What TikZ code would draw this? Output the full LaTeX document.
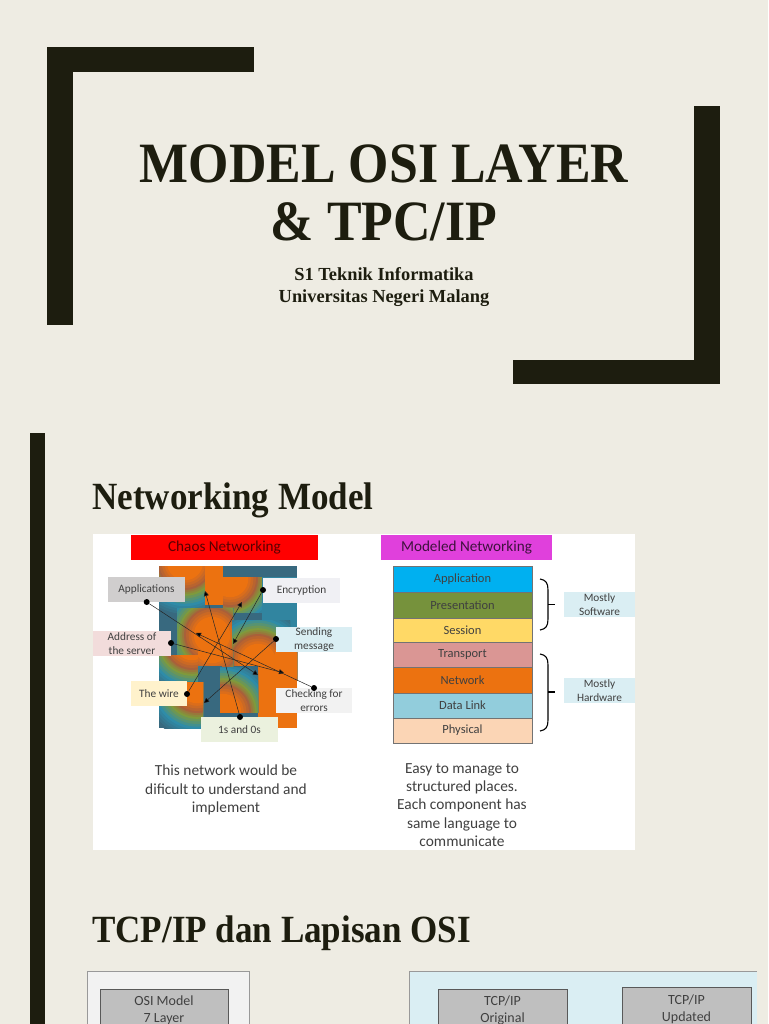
\documentclass[tikz,border=0pt]{standalone}
\usepackage{fontspec}
\setmainfont{Liberation Serif}
\newfontfamily\serifn[FakeStretch=0.91]{Liberation Serif}
\newfontfamily\calib{Carlito}
\definecolor{bg}{HTML}{EEECE3}
\definecolor{ink}{HTML}{1D1D0F}
\definecolor{txt}{HTML}{404040}
\definecolor{cOr}{HTML}{EC7210}
\definecolor{cRd}{HTML}{A8603A}
\definecolor{cGr}{HTML}{7F9A3C}
\definecolor{cTe}{HTML}{2F8CA8}
\definecolor{cDk}{HTML}{38697F}
\usetikzlibrary{arrows.meta}
\newcommand{\patch}[6]{% x1 y1 x2 y2 cx cy
 \begin{scope}\clip (#1,#2) rectangle (#3,#4);
 \fill[cDk] (#1,#2) rectangle (#3,#4);
 \foreach \r/\c in {42/cDk,40/cDk!75!cTe,38/cDk!50!cTe,36/cDk!25!cTe,34/cTe,32/cTe!75!cGr,30/cTe!50!cGr,28/cTe!25!cGr,26/cGr,24.5/cGr!70!cRd,23/cGr!40!cRd,21.5/cRd,20/cRd!75!cOr,18/cRd!50!cOr,16/cRd!25!cOr,14/cOr}
   \fill[\c] (#5,#6) circle ({\r*1.3});
 \end{scope}}
\tikzset{x=1pt,y=-1pt,
 tit/.style={font=\serifn\bfseries\fontsize{57}{57}\selectfont,text=ink,inner sep=0pt},
 sub/.style={font=\bfseries\fontsize{18.4}{18}\selectfont,text=ink,inner sep=0pt},
 head/.style={font=\serifn\bfseries\fontsize{38.5}{38}\selectfont,text=ink,inner sep=0pt,anchor=west},
 lab/.style={font=\calib\fontsize{11.3}{14}\selectfont,text=txt,align=center,minimum height=25pt,inner sep=0pt},
 captext/.style={font=\calib\fontsize{15.4}{18.4}\selectfont,text=txt,align=center,inner sep=0pt},
 layer/.style={draw=gray!90!black,line width=.6pt,font=\calib\fontsize{12.5}{13}\selectfont,text=txt,minimum width=139pt,inner sep=0pt},
 banner/.style={minimum height=25pt,inner sep=0pt,font=\calib\fontsize{15.2}{15}\selectfont},
 dot/.style={circle,fill=black,minimum size=6pt,inner sep=0pt},
 arw/.style={draw=black!85,line width=.5pt,-{Triangle[length=5pt,width=5pt,fill=black]}},
 brc/.style={draw=black,line width=1.1pt},
 panel/.style={draw=gray!80,line width=.7pt},
 grey/.style={draw=gray!70!black,line width=.9pt,fill=black!25,inner sep=0pt},
 greytext/.style={font=\calib\fontsize{14}{17}\selectfont,text=txt,align=center,inner sep=0pt},
}
\begin{document}
\begin{tikzpicture}
\useasboundingbox (0,0) rectangle (768,1024);
\fill[bg] (0,0) rectangle (768,1024);
% frame bars
\fill[ink] (47,47) rectangle (254,72);
\fill[ink] (47,47) rectangle (73,325);
\fill[ink] (694,106) rectangle (720,384);
\fill[ink] (513,360) rectangle (720,384);
\fill[ink] (30,433) rectangle (45,1024);
% titles
\node[tit] (t1) at (384,164) {MODEL OSI LAYER};
\node[tit] (t2) at (384,222) {\& TPC/IP};
\node[sub] (s1) at (384,274) {S1 Teknik Informatika};
\node[sub] (s2) at (384,298) {Universitas Negeri Malang};
\node[head] (h1) at (92,500) {Networking Model};
\node[head] (h2) at (92,933) {TCP/IP dan Lapisan OSI};
% white picture
\fill[white] (93,534) rectangle (635,850);
\node[banner,fill=red,minimum width=187pt,text=black!65!red] (cn) at (224.5,547.5) {Chaos Networking};
\definecolor{mg}{HTML}{E040DC}
\node[banner,fill=mg,minimum width=171pt,text=black!72!mg] (mn) at (466.5,547.5) {Modeled Networking};
% chaos pattern
\fill[cDk] (159,566) rectangle (297,728);
\patch{159}{566}{205}{612}{185}{562}
\fill[cDk] (223,566) rectangle (297,577);
\patch{223}{577}{262}{612}{230}{579}
\fill[cTe!80!cDk] (262,577) rectangle (297,650);
\patch{177}{608}{233}{655}{212}{635}
\patch{232}{620}{290}{665}{258}{662}
\patch{275}{650}{297}{680}{283}{665}
\patch{159}{655}{198}{682}{192}{642}
\patch{198}{650}{233}{666}{212}{645}
\patch{198}{666}{222}{715}{160}{640}
\patch{159}{682}{203}{728}{197}{685}
\fill[cOr] (205,566) rectangle (223,605);
\fill[cOr] (258,680) rectangle (297,728);
\fill[cOr] (258,665) rectangle (275,680);
\patch{220}{667}{258}{712}{223}{712}
% labels
\definecolor{lA}{HTML}{D0CECE}
\definecolor{lE}{HTML}{F0F0F4}
\definecolor{lD}{HTML}{F2DCDB}
\definecolor{lM}{HTML}{DAEEF3}
\definecolor{lW}{HTML}{FFF2CC}
\definecolor{lC}{HTML}{F2F2F2}
\definecolor{lZ}{HTML}{EBF1DE}
\node[lab,fill=lA,minimum width=77pt] (a) at (146.5,589.5) {Applications};
\node[lab,fill=lE,minimum width=77pt] (e) at (301.5,590) {Encryption};
\node[lab,fill=lD,minimum width=78pt] (d) at (132,643.5) {Address of\\the server};
\node[lab,fill=lM,minimum width=76pt] (m) at (314,639.5) {Sending\\message};
\node[lab,fill=lW,minimum width=56pt] (w) at (159,693.5) {The wire};
\node[lab,fill=lC,minimum width=76pt] (c) at (314,700.5) {Checking for\\errors};
\node[lab,fill=lZ,minimum width=77pt] (z) at (239.5,729.5) {1s and 0s};
% connectors
\coordinate (a2) at (258,675);
\coordinate (e2) at (233,644);
\coordinate (w2) at (242,602);
\coordinate (d2) at (284,673);
\coordinate (m2) at (204,703);
\coordinate (c2) at (196,633);
\coordinate (z2) at (205,591);
\node[dot] (ad) at (146.7,602) {};
\node[dot] (ed) at (263,590) {};
\node[dot] (wd) at (187,694) {};
\node[dot] (dd) at (171,643) {};
\node[dot] (md) at (276,639) {};
\node[dot] (cd) at (314,688) {};
\node[dot] (zd) at (240,717) {};
\draw[arw] (ad) -- (a2);
\draw[arw] (ed) -- (e2);
\draw[arw] (wd) -- (w2);
\draw[arw] (dd) -- (d2);
\draw[arw] (md) -- (m2);
\draw[arw] (cd) -- (c2);
\draw[arw] (zd) -- (z2);
% stack
\definecolor{s1}{HTML}{00B0F0}
\definecolor{s2}{HTML}{76923C}
\definecolor{s3}{HTML}{FFD966}
\definecolor{s4}{HTML}{DA9694}
\definecolor{s6}{HTML}{92CDDC}
\definecolor{s7}{HTML}{FBD5B5}
\node[layer,fill=s1,minimum height=26pt] (l1) at (462.5,579) {Application};
\node[layer,fill=s2,minimum height=26pt] (l2) at (462.5,605) {Presentation};
\node[layer,fill=s3,minimum height=24pt] (l3) at (462.5,630) {Session};
\node[layer,fill=s4,minimum height=25pt] (l4) at (462.5,654.5) {Transport};
\node[layer,fill=cOr,minimum height=26pt] (l5) at (462.5,680) {Network};
\node[layer,fill=s6,minimum height=25pt] (l6) at (462.5,705.5) {Data Link};
\node[layer,fill=s7,minimum height=25pt] (l7) at (462.5,730.5) {Physical};
% braces
\coordinate (b1t) at (540,579);\coordinate (b1b) at (540,630);\coordinate (b1m) at (555,604.5);
\coordinate (b2t) at (540,654);\coordinate (b2b) at (540,731);\coordinate (b2m) at (555,692);
\draw[brc] (b1t) .. controls (546,580) and (548,583) .. (548,590) -- (548,619) .. controls (548,626) and (546,629) .. (b1b);
\draw[brc] (548,604.5) -- (b1m);
\draw[brc] (b2t) .. controls (546,655) and (548,658) .. (548,665) -- (548,720) .. controls (548,727) and (546,730) .. (b2b);
\draw[brc] (548,692) -- (b2m);
\node[lab,fill=lM,minimum width=71pt] (sw) at (599.5,604.5) {Mostly\\Software};
\node[lab,fill=lM,minimum width=71pt] (hw) at (599.5,690.5) {Mostly\\Hardware};
% captions
\node[captext] (c1) at (226,790) {This network would be\\dificult to understand and\\implement};
\node[captext] (c2t) at (462,805) {Easy to manage to\\structured places.\\Each component has\\same language to\\communicate};
% bottom panels
\begin{scope}
\clip (0,0) rectangle (768,1024);
\draw[panel,fill=lC] (87,971) rectangle (249,1040);
\fill[lM] (409,971) rectangle (757,1040);
\draw[panel] (409,1040) -- (409,971) -- (757,971);
\node[grey,minimum width=128pt,minimum height=60pt,anchor=north] (o) at (164,989) {};
\node[grey,minimum width=129pt,minimum height=60pt,anchor=north] (p) at (502.5,989) {};
\node[grey,minimum width=129pt,minimum height=60pt,anchor=north] (q) at (686.5,987) {};
\node[greytext] (ot) at (164,1010) {OSI Model\\7 Layer};
\node[greytext] (pt) at (502.5,1010) {TCP/IP\\Original};
\node[greytext] (qt) at (686.5,1009) {TCP/IP\\Updated};
\end{scope}
\end{tikzpicture}
\end{document}
